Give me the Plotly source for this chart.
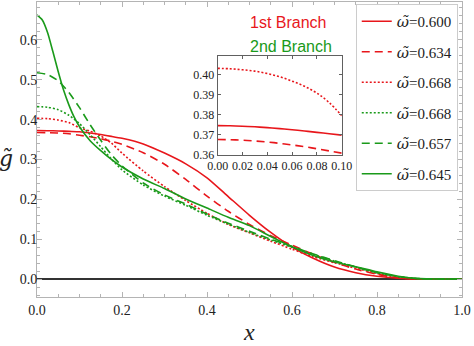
import plotly.graph_objects as go

# ---------------- data ----------------
x_grid = [0, 0.025, 0.05, 0.075, 0.1, 0.125, 0.15, 0.175, 0.2, 0.25, 0.3, 0.35,
          0.4, 0.45, 0.5, 0.55, 0.6, 0.65, 0.7, 0.75, 0.8, 0.85, 0.9, 0.95, 1.0]

g_600 = [0.3725, 0.3722, 0.3715, 0.3705, 0.3697, 0.3665, 0.3625, 0.358, 0.353, 0.339, 0.316, 0.289,
         0.254, 0.207, 0.160, 0.117, 0.080, 0.052, 0.030, 0.016, 0.007, 0.002, 0.0, 0.0, 0.0]
g_634 = [0.3675, 0.3672, 0.3665, 0.3645, 0.3607, 0.357, 0.352, 0.346, 0.338, 0.317, 0.288, 0.250,
         0.208, 0.170, 0.137, 0.109, 0.085, 0.062, 0.042, 0.025, 0.012, 0.003, 0.0, 0.0, 0.0]
g_668_1 = [0.4032, 0.4024, 0.3988, 0.3925, 0.3795, 0.371, 0.359, 0.341, 0.316, 0.271, 0.232, 0.197,
           0.165, 0.137, 0.116, 0.095, 0.075, 0.056, 0.041, 0.027, 0.014, 0.004, 0.0, 0.0, 0.0]
g_668_2 = [0.4325, 0.431, 0.425, 0.411, 0.390, 0.362, 0.332, 0.301, 0.274, 0.236, 0.208, 0.185,
           0.160, 0.138, 0.117, 0.098, 0.080, 0.062, 0.045, 0.030, 0.016, 0.006, 0.001, 0.0, 0.0]
g_657 = [0.5175, 0.513, 0.497, 0.468, 0.430, 0.387, 0.348, 0.312, 0.284, 0.241, 0.211, 0.188,
         0.163, 0.140, 0.120, 0.100, 0.082, 0.063, 0.046, 0.030, 0.016, 0.006, 0.001, 0.0, 0.0]

x_645 = [0, 0.0125, 0.025, 0.0375, 0.05, 0.0625, 0.075, 0.0875, 0.1, 0.125, 0.15, 0.175, 0.2,
         0.25, 0.3, 0.35, 0.4, 0.45, 0.5, 0.55, 0.6, 0.65, 0.7, 0.75, 0.8, 0.85, 0.9, 0.95, 1.0]
g_645 = [0.6625, 0.650, 0.618, 0.570, 0.520, 0.474, 0.437, 0.406, 0.382, 0.347, 0.322, 0.300, 0.281,
         0.251, 0.227, 0.201, 0.178, 0.155, 0.134, 0.107, 0.081, 0.059, 0.043, 0.031, 0.018, 0.007,
         0.001, 0.0, 0.0]

inset_x = [0, 0.01, 0.02, 0.03, 0.04, 0.05, 0.06, 0.07, 0.08, 0.09, 0.10]
inset_600 = [0.3745, 0.3744, 0.3742, 0.3739, 0.3735, 0.3730, 0.3724, 0.3718, 0.3711, 0.3704, 0.3697]
inset_634 = [0.3675, 0.3674, 0.3672, 0.3668, 0.3663, 0.3656, 0.3648, 0.3639, 0.3629, 0.3618, 0.3607]
inset_668 = [0.4032, 0.4030, 0.4025, 0.4018, 0.4006, 0.3990, 0.3968, 0.3942, 0.3908, 0.3860, 0.3795]

omega_labels = ["0.600", "0.634", "0.668", "0.668", "0.657", "0.645"]

RED = "#e8161b"
GREEN = "#1a9a1a"
DASH = "8px,5px"
DOT = "2px,2px"

series = [
    (omega_labels[0], x_grid, g_600, RED, "solid"),
    (omega_labels[1], x_grid, g_634, RED, DASH),
    (omega_labels[2], x_grid, g_668_1, RED, DOT),
    (omega_labels[3], x_grid, g_668_2, GREEN, DOT),
    (omega_labels[4], x_grid, g_657, GREEN, DASH),
    (omega_labels[5], x_645, g_645, GREEN, "solid"),
]

inset_series = [
    (inset_600, RED, "solid"),
    (inset_634, RED, DASH),
    (inset_668, RED, DOT),
]

SERIF = "Liberation Serif"
SANS = "Liberation Sans"
OMEGA = "<span style='font-family:DejaVu Serif'><i>ω̃</i></span>"
GTIL = "<span style='font-family:DejaVu Serif'><i>g̃</i></span>"

fig = go.Figure()
for i, (lab, xs, ys, col, dash) in enumerate(series):
    fig.add_trace(go.Scatter(
        x=xs, y=ys, mode="lines",
        line=dict(color=col, width=1.6, dash=dash, shape="spline", smoothing=0.6),
        name=OMEGA + "=" + lab, legendgroup=f"g{i}", showlegend=True,
    ))

for ys, col, dash in inset_series:
    fig.add_trace(go.Scatter(
        x=inset_x, y=ys, mode="lines", xaxis="x2", yaxis="y2",
        line=dict(color=col, width=1.6, dash=dash, shape="spline"),
        showlegend=False,
    ))

FRAME = "#b4b4b4"
INSET = "#606060"

fig.update_layout(
    width=474, height=346,
    margin=dict(l=37, r=9, t=1, b=49),
    paper_bgcolor="white", plot_bgcolor="white",
    font=dict(family=SERIF, color="#222", size=14),
    xaxis=dict(range=[0, 1], dtick=0.2, tick0=0, tickformat=".1f",
               showline=True, linecolor=FRAME, linewidth=1, mirror="ticks",
               ticks="inside", ticklen=5, tickcolor=FRAME,
               minor=dict(dtick=0.05, ticks="inside", ticklen=3, tickcolor=FRAME),
               showgrid=False, zeroline=False,
               tickfont=dict(family=SERIF, size=14, color="#222")),
    yaxis=dict(range=[-0.045, 0.695], dtick=0.1, tick0=0, tickformat=".1f",
               showline=True, linecolor=FRAME, linewidth=1, mirror="ticks",
               ticks="inside", ticklen=5, tickcolor=FRAME,
               minor=dict(dtick=0.02, ticks="inside", ticklen=3, tickcolor=FRAME),
               showgrid=False, zeroline=True, zerolinecolor="#333", zerolinewidth=2,
               ticklabelstandoff=-4,
               tickfont=dict(family=SERIF, size=14, color="#222")),
    xaxis2=dict(domain=[0.425, 0.717], anchor="y2", range=[0, 0.1], dtick=0.02, tick0=0,
                tickformat=".2f", showline=True, linecolor=INSET, linewidth=1, mirror="ticks",
                ticks="inside", ticklen=3, tickcolor=INSET, showgrid=False, zeroline=False,
                tickfont=dict(family=SERIF, size=12, color="#222")),
    yaxis2=dict(domain=[0.483, 0.8176], anchor="x2", range=[0.36, 0.4095], dtick=0.01, tick0=0.36,
                tickformat=".2f", showline=True, linecolor=INSET, linewidth=1, mirror="ticks",
                ticks="inside", ticklen=3, tickcolor=INSET, showgrid=False, zeroline=False,
                tickfont=dict(family=SERIF, size=12, color="#222")),
    legend=dict(x=0.75, y=0.993, xanchor="left", yanchor="top",
                bgcolor="white", bordercolor="#cccccc", borderwidth=1,
                font=dict(family=SERIF, size=15, color="#222"),
                tracegroupgap=8, itemwidth=30),
    showlegend=True,
)

fig.add_annotation(text=GTIL, xref="paper", yref="paper", x=-0.072, y=0.47,
                   xanchor="center", yanchor="middle",
                   showarrow=False, font=dict(family=SERIF, size=22, color="#222"))
fig.add_annotation(text="<i>x</i>", xref="paper", yref="paper", x=0.498, y=-0.118,
                   xanchor="center", yanchor="middle",
                   showarrow=False, font=dict(family=SERIF, size=24, color="#222"))
fig.add_annotation(text="1st Branch", xref="paper", yref="paper", x=0.591, y=0.932,
                   xanchor="center", yanchor="middle",
                   showarrow=False, font=dict(family=SANS, size=16, color=RED))
fig.add_annotation(text="2nd Branch", xref="paper", yref="paper", x=0.598, y=0.848,
                   xanchor="center", yanchor="middle",
                   showarrow=False, font=dict(family=SANS, size=16, color=GREEN))

fig.write_html("out.html")
